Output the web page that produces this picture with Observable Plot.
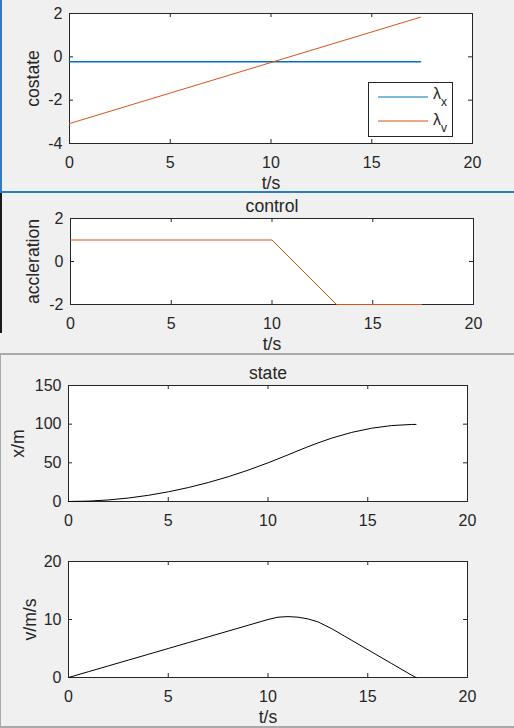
<!DOCTYPE html>
<html>
<head>
<meta charset="utf-8">
<script src="https://cdn.jsdelivr.net/npm/d3@7"></script>
<script src="https://cdn.jsdelivr.net/npm/@observablehq/plot@0.6"></script>
<style>
  body { margin: 0; background: #f0f0f0; }
  #fig { position: relative; width: 514px; height: 728px; background: #f0f0f0; overflow: hidden; }
  #fig > svg, #fig > div { position: absolute; }
</style>
</head>
<body>
<div id="fig"></div>
<script>
// valeurs
const xTicks = [0, 5, 10, 15, 20];

// costate
const tCostate = [0, 17.42];
const lambdaX = [-0.23, -0.23];
const lambdaV = [-3.08, 1.83];
const costateTicks = [-4, -2, 0, 2];

// control
const tControl = [0, 10, 13.2, 17.42];
const accel = [1, 1, -2, -2];
const controlTicks = [-2, 0, 2];

// state
const tState = [0, 1, 2, 3, 4, 5, 6, 7, 8, 9, 10, 10.5, 11, 11.5, 12, 12.5, 13.2, 14.2, 15.2, 16.2, 17.2, 17.42];
const xState = [0, 0.5, 2, 4.5, 8, 12.5, 18, 24.5, 32, 40.5, 50, 55.1, 60.3, 65.6, 70.8, 75.7, 82.0, 89.4, 94.8, 98.2, 99.6, 99.7];
const vState = [0, 1, 2, 3, 4, 5, 6, 7, 8, 9, 10, 10.4, 10.5, 10.4, 10.1, 9.6, 8.4, 6.4, 4.4, 2.4, 0.4, 0];
const xTicksY = [0, 50, 100, 150];
const vTicksY = [0, 10, 20];

const blue = "#0072BD";
const orange = "#D95319";
const ink = "#262626";
const font = "'Liberation Sans', Arial, sans-serif";
const labelSize = 17.6;

const fig = d3.select("#fig");

// une "axes" matlab : cadre blanc, ticks vers l'intérieur, boîte fermée
function panel({top, height, margin, yDomain, yTicks, series, title, ylabel, ylabelDx, xlabel}) {
  const [mt, mr, mb, ml] = margin;
  const fw = 514 - ml - mr, fh = height - mt - mb;
  const label = {text: d => d, fill: ink, fontSize: labelSize, lineAnchor: "middle", textAnchor: "middle"};
  const marks = [
    Plot.frame({fill: "white"}),
    Plot.frame({stroke: ink}),
    Plot.tickX(xTicks, {x: d => d, stroke: ink, insetTop: fh - 4}),
    Plot.tickX(xTicks, {x: d => d, stroke: ink, insetBottom: fh - 4}),
    Plot.tickY(yTicks, {y: d => d, stroke: ink, insetRight: fw - 4}),
    Plot.tickY(yTicks, {y: d => d, stroke: ink, insetLeft: fw - 4}),
    ...series.map(s => Plot.line(s.data, {x: "t", y: "v", stroke: s.color, strokeWidth: s.width || 1})),
    Plot.axisX(xTicks, {anchor: "bottom", label: null, tickSize: 0, tickPadding: 13, fill: ink, fontSize: 16, tickFormat: d => String(d)}),
    Plot.axisY(yTicks, {anchor: "left", label: null, tickSize: 0, tickPadding: 7, fill: ink, fontSize: 16, tickFormat: d => String(d)}),
    Plot.text([ylabel], {...label, frameAnchor: "left", dx: ylabelDx, rotate: -90})
  ];
  if (xlabel) marks.push(Plot.text([xlabel], {...label, frameAnchor: "bottom", dy: 40}));
  if (title) marks.push(Plot.text([title], {...label, frameAnchor: "top", dy: -12}));
  const chart = Plot.plot({
    width: 514,
    height,
    marginTop: mt, marginRight: mr, marginBottom: mb, marginLeft: ml,
    x: {domain: [0, 20], axis: null, label: null},
    y: {domain: yDomain, axis: null, label: null},
    style: {background: "transparent", fontSize: "16px", fontFamily: font, overflow: "visible"},
    marks
  });
  d3.select(chart).style("top", top + "px").style("left", "0px");
  fig.append(() => chart);
}

const pts = (ts, vs) => ts.map((t, i) => ({t, v: vs[i]}));

panel({
  top: 0, height: 192, margin: [13, 42, 49, 69],
  yDomain: [-4, 2], yTicks: costateTicks,
  series: [
    {data: pts(tCostate, lambdaX), color: blue, width: 1.6},
    {data: pts(tCostate, lambdaV), color: orange}
  ],
  ylabel: "costate", ylabelDx: -36, xlabel: "t/s"
});

panel({
  top: 193, height: 162, margin: [25, 41, 51, 70],
  yDomain: [-2, 2], yTicks: controlTicks,
  series: [{data: pts(tControl, accel), color: orange}],
  title: "control", ylabel: "accleration", ylabelDx: -37, xlabel: "t/s"
});

panel({
  top: 356, height: 180, margin: [29, 47, 35, 68],
  yDomain: [0, 150], yTicks: xTicksY,
  series: [{data: pts(tState, xState), color: "black"}],
  title: "state", ylabel: "x/m", ylabelDx: -50
});

panel({
  top: 536, height: 192, margin: [25, 47, 51, 68],
  yDomain: [0, 20], yTicks: vTicksY,
  series: [{data: pts(tState, vState), color: "black"}],
  ylabel: "v/m/s", ylabelDx: -38, xlabel: "t/s"
});

// légende du premier panneau
const leg = fig.append("svg")
  .style("left", "368px").style("top", "82px")
  .attr("width", 85).attr("height", 55)
  .style("font-family", font).style("font-size", "16px");
leg.append("rect").attr("x", 0.5).attr("y", 0.5).attr("width", 84).attr("height", 54)
  .attr("fill", "white").attr("stroke", ink);
[["x", blue, 15, 2], ["v", orange, 39, 4]].forEach(([sub, c, y, off]) => {
  leg.append("line").attr("x1", 10).attr("x2", 60).attr("y1", y).attr("y2", y).attr("stroke", c);
  const t = leg.append("text").attr("x", 65).attr("y", y + off).attr("fill", ink).text("λ");
  t.append("tspan").attr("dy", 6.5).attr("font-size", "12px").text(sub);
});

// bordures des fenêtres
const sep = (l, t, w, h, c) => fig.append("div")
  .style("left", l + "px").style("top", t + "px").style("width", w + "px").style("height", h + "px").style("background", c);
sep(0, 0, 2, 192, "#2b7bd1");
sep(0, 191, 514, 2, "#2b7bd1");
sep(0, 193, 2, 140, "#1a1a1a");
sep(0, 353, 514, 2, "#a9a9a9");
sep(0, 355, 1, 373, "#a9a9a9");
sep(0, 726, 514, 2, "#a9a9a9");
</script>
</body>
</html>
